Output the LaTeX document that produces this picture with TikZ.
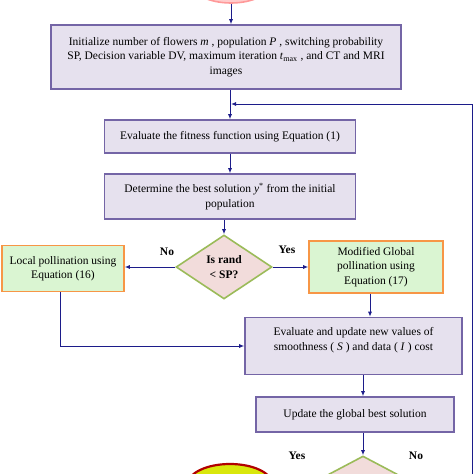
\documentclass[tikz,border=0pt]{standalone}
\usepackage{fontspec}
\setmainfont{Liberation Serif}
\usepackage{xcolor}
\usetikzlibrary{shapes.geometric}
\usetikzlibrary{arrows.meta}
\definecolor{boxfill}{HTML}{E6E1EE}
\definecolor{boxline}{HTML}{7465A6}
\definecolor{leaffill}{HTML}{DAF5D2}
\definecolor{leafline}{HTML}{F79646}
\definecolor{askfill}{HTML}{F2DCDB}
\definecolor{askline}{HTML}{9BBB59}
\definecolor{flowblue}{HTML}{1C1C8A}
\newcommand{\chartfont}{\fontsize{11.5}{14.5}\selectfont}
\tikzset{
    procbox/.style={draw=boxline,fill=boxfill,line width=1.6pt,align=center,inner sep=2pt},
    pollbox/.style={draw=leafline,fill=leaffill,line width=1.6pt,align=center,inner sep=2pt},
    askbox/.style={diamond,draw=askline,fill=askfill,line width=1.6pt,aspect=1.5,inner sep=0pt,align=center,font=\chartfont\bfseries},
    flow/.style={draw=flowblue,line width=0.9pt,-{Latex[length=5pt,width=4pt]}},
    tag/.style={font=\chartfont\bfseries}
}
\begin{document}
\begin{tikzpicture}[x=1pt,y=-1pt,font=\chartfont]
\useasboundingbox (0,0) rectangle (474,474);
% terminals
\node[ellipse,draw=red!40,fill=red!20,line width=1.6pt,minimum width=80,minimum height=40] (begin) at (231,-17) {};
\node[ellipse,draw=red!70!black,fill=yellow!85!green,line width=2.2pt,minimum width=84,minimum height=40] (finish) at (230,484) {};
% boxes
\node[procbox,minimum width=350,minimum height=64] (init) at (226,57) {Initialize number of flowers \textit{m} , population \textit{P} , switching probability\\ SP, Decision variable DV, maximum iteration \textit{t}\textsubscript{max} , and CT and MRI\\ images};
\node[procbox,minimum width=251,minimum height=33] (fitness) at (230,136.5) {Evaluate the fitness function using Equation (1)};
\node[procbox,minimum width=251,minimum height=45] (best) at (230,196.5) {Determine the best solution \textit{y}\textsuperscript{*} from the initial\\ population};
\node[askbox,minimum width=96,minimum height=64] (rand) at (224,267) {Is rand\\ {\textless} SP?};
\node[pollbox,minimum width=122,minimum height=46] (local) at (63,268.5) {Local pollination using\\ Equation (16)};
\node[pollbox,minimum width=134,minimum height=52] (global) at (376,267) {Modified Global\\ pollination using\\ Equation (17)};
\node[procbox,minimum width=217,minimum height=57] (cost) at (353.5,346) {Evaluate and update new values of\\ smoothness ( \textit{S} ) and data ( \textit{I} ) cost\\ \mbox{}};
\node[procbox,minimum width=198,minimum height=35] (gbest) at (355,414.5) {Update the global best solution};
\node[askbox,minimum width=170,minimum height=90] (stop) at (363,501) {};
\coordinate (loop) at (231,104);
% connectors
\draw[flow] (begin.south) -- (begin.south |- init.north);
\draw[flow] (init.south -| fitness) -- (fitness.north);
\draw[flow] (fitness.south) -- (best.north);
\draw[flow] (best.south -| rand) -- (rand.north);
\draw[flow] (rand.west) -- (rand.west -| local.east);
\draw[flow] (rand.east) -- (rand.east -| global.west);
\draw[flow] ([xshift=-6]global.south) -- ([xshift=-6]global.south |- cost.north);
\draw[flow] ([xshift=-3]local.south) |- (cost.west);
\draw[flow] (stop.north |- cost.south) -- (stop.north |- gbest.north);
\draw[flow] (stop.north |- gbest.south) -- (stop.north);
\draw[flow] (stop.east) -- ++(24,0) |- (loop);
\draw[flow] (stop.west) -- (finish.east);
% labels
\node[tag] (no1) at (167,252) {No};
\node[tag] (yes1) at (287,250) {Yes};
\node[tag] (yes2) at (297,456) {Yes};
\node[tag] (no2) at (416,456) {No};
\end{tikzpicture}
\end{document}
